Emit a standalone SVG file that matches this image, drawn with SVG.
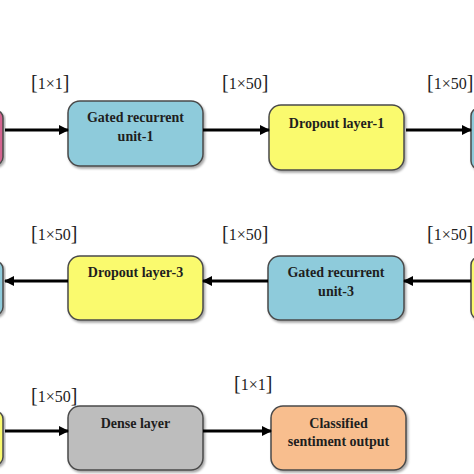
<svg xmlns="http://www.w3.org/2000/svg" width="474" height="474" viewBox="0 0 474 474">
<defs>
<marker id="ah" markerWidth="10" markerHeight="10" refX="9" refY="5" orient="auto" markerUnits="userSpaceOnUse">
<path d="M0,0 L10,5 L0,10 Z" fill="#000"/>
</marker>
<filter id="sh" x="-5%" y="-5%" width="115%" height="120%">
<feDropShadow dx="1.5" dy="2" stdDeviation="1" flood-color="#000" flood-opacity="0.35"/>
</filter>
</defs>
<style>
.box{stroke:#4a4a4a;stroke-width:1.5;filter:url(#sh)}
.cy{fill:#8ecbdb}
.ye{fill:#fafa6e}
.gr{fill:#bdbdbd}
.or{fill:#f8be8e}
.pk{fill:#d4648f}
.t{font-family:"Liberation Serif",serif;font-weight:bold;font-size:14px;fill:#1e1e1e;text-anchor:middle}
.l{font-family:"Liberation Serif",serif;font-size:16px;fill:#222}
.br{font-size:20px}
.c{stroke:#000;stroke-width:3;fill:none;marker-end:url(#ah)}
</style>
<rect width="474" height="474" fill="#fff"/>

<g id="edge-boxes">
<rect class="box pk" x="-20" y="110" width="23" height="55" rx="8"/>
<rect class="box cy" x="471" y="108" width="30" height="61" rx="8"/>
<rect class="box cy" x="-20" y="261" width="23" height="54" rx="8"/>
<rect class="box ye" x="471" y="257" width="30" height="62" rx="8"/>
<rect class="box ye" x="-20" y="411" width="23" height="54" rx="8"/>
</g>

<g id="gru1">
<rect class="box cy" x="68" y="101" width="135" height="65" rx="12"/>
<text class="t" x="135.5" y="122">Gated recurrent</text>
<text class="t" x="135.5" y="141">unit-1</text>
</g>
<g id="dropout1">
<rect class="box ye" x="269" y="105" width="135" height="65" rx="12"/>
<text class="t" x="336.5" y="127.5">Dropout layer-1</text>
</g>
<g id="gru3">
<rect class="box cy" x="268" y="256" width="136" height="64" rx="12"/>
<text class="t" x="336" y="277">Gated recurrent</text>
<text class="t" x="336" y="296">unit-3</text>
</g>
<g id="dropout3">
<rect class="box ye" x="68" y="256" width="135" height="64" rx="12"/>
<text class="t" x="135.5" y="277">Dropout layer-3</text>
</g>
<g id="dense">
<rect class="box gr" x="68" y="406" width="135" height="64" rx="12"/>
<text class="t" x="135.5" y="427.5">Dense layer</text>
</g>
<g id="output">
<rect class="box or" x="271" y="406" width="135" height="64" rx="12"/>
<text class="t" x="338.5" y="427.5">Classified</text>
<text class="t" x="338.5" y="446">sentiment output</text>
</g>

<g id="connectors">
<line class="c" x1="5" y1="130" x2="68" y2="130"/>
<line class="c" x1="203" y1="130" x2="269" y2="130"/>
<line class="c" x1="406" y1="130" x2="471" y2="130"/>
<line class="c" x1="471" y1="281" x2="404" y2="281"/>
<line class="c" x1="268" y1="281" x2="203" y2="281"/>
<line class="c" x1="68" y1="281" x2="5" y2="281"/>
<line class="c" x1="5" y1="431" x2="68" y2="431"/>
<line class="c" x1="203" y1="431" x2="271" y2="431"/>
</g>

<g id="labels">
<text class="l" x="31" y="89"><tspan class="br">[</tspan>1×1<tspan class="br">]</tspan></text>
<text class="l" x="222" y="89"><tspan class="br">[</tspan>1×50<tspan class="br">]</tspan></text>
<text class="l" x="427" y="89"><tspan class="br">[</tspan>1×50<tspan class="br">]</tspan></text>
<text class="l" x="31" y="240"><tspan class="br">[</tspan>1×50<tspan class="br">]</tspan></text>
<text class="l" x="222" y="240"><tspan class="br">[</tspan>1×50<tspan class="br">]</tspan></text>
<text class="l" x="427" y="240"><tspan class="br">[</tspan>1×50<tspan class="br">]</tspan></text>
<text class="l" x="31" y="402"><tspan class="br">[</tspan>1×50<tspan class="br">]</tspan></text>
<text class="l" x="234" y="390"><tspan class="br">[</tspan>1×1<tspan class="br">]</tspan></text>
</g>
</svg>
